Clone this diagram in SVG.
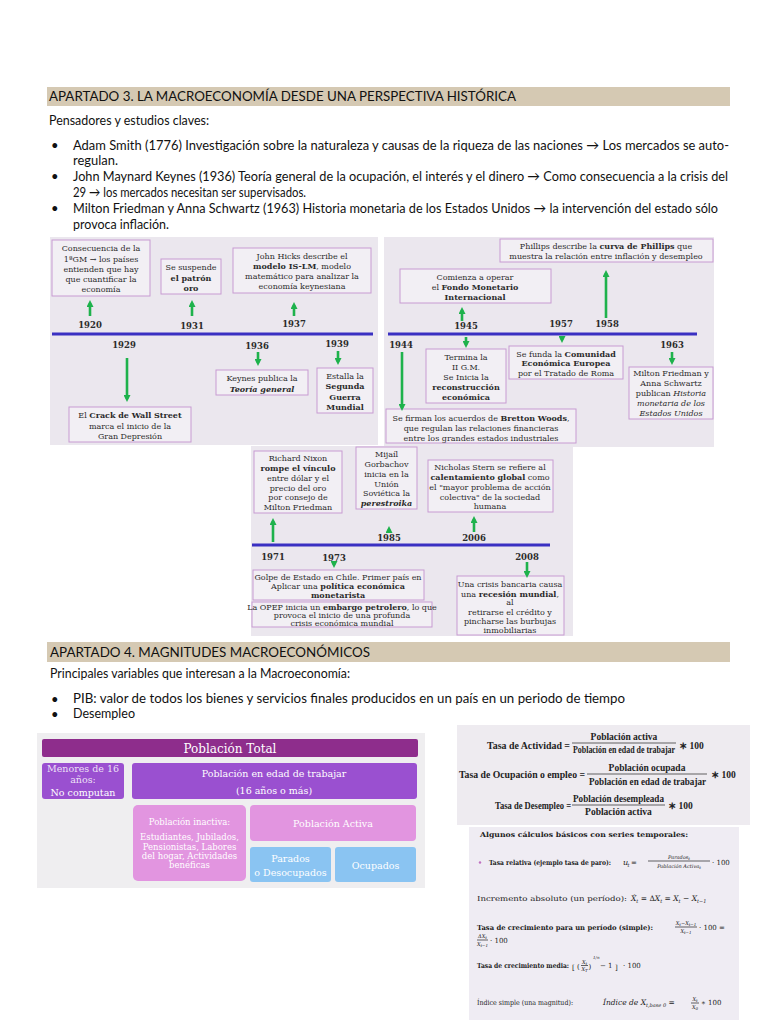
<svg xmlns="http://www.w3.org/2000/svg" width="768" height="1024" viewBox="0 0 768 1024">
<defs>
<style>
.doc{font-family:Lato,"Open Sans","Liberation Sans",sans-serif;font-size:13px;fill:#111}
.hbar{fill:#d5c9b3}
.panel{fill:#ebe7ee}
.box{fill:#f2eff4;stroke:#c89bd2;stroke-width:1}
.t{font-family:"DejaVu Serif",serif;font-size:8px;fill:#2b2b2b;text-anchor:middle}
.b{font-weight:bold}
.i{font-style:italic}
.yr{font-family:"DejaVu Serif",serif;font-size:8.5px;font-weight:bold;fill:#2b2b2b;text-anchor:middle}
.tl{stroke:#3a30c2;stroke-width:3}
.ar{stroke:#1eb24c;stroke-width:2.6;fill:none;marker-end:url(#ga)}
.pw{font-family:"DejaVu Serif",serif;fill:#fff;text-anchor:middle}
.fm{font-family:"Liberation Serif",serif;font-weight:bold;font-size:9.5px;fill:#222}
.fl{stroke:#222;stroke-width:0.7}
.s{font-family:"DejaVu Serif",serif;font-size:7px;fill:#222}
.mi{font-family:"DejaVu Serif",serif;font-style:italic;fill:#222}
</style>
<marker id="ga" viewBox="0 0 7 7" refX="4" refY="3.5" markerWidth="7" markerHeight="7" markerUnits="userSpaceOnUse" orient="auto"><path d="M0,0 L7,3.5 L0,7 z" fill="#1eb24c"/></marker>
</defs>
<rect width="768" height="1024" fill="#fff"/>

<!-- Section 3 text -->
<g id="apartado3">
<rect class="hbar" x="47" y="87" width="683" height="19"/>
<text class="doc" x="49" y="101" textLength="467" lengthAdjust="spacingAndGlyphs">APARTADO 3.  LA MACROECONOMÍA DESDE UNA PERSPECTIVA HISTÓRICA</text>
<text class="doc" x="49" y="125" textLength="160" lengthAdjust="spacingAndGlyphs">Pensadores y estudios claves:</text>
<text class="doc" x="51" y="150">•</text>
<text class="doc" x="73" y="149.5" textLength="656" lengthAdjust="spacingAndGlyphs">Adam Smith (1776) Investigación sobre la naturaleza y causas de la riqueza de las naciones → Los mercados se auto-</text>
<text class="doc" x="73" y="165" textLength="45" lengthAdjust="spacingAndGlyphs">regulan.</text>
<text class="doc" x="51" y="181">•</text>
<text class="doc" x="73" y="180.5" textLength="655" lengthAdjust="spacingAndGlyphs">John Maynard Keynes (1936) Teoría general de la ocupación, el interés y el dinero → Como consecuencia a la crisis del</text>
<text class="doc" x="73" y="196.5" textLength="233" lengthAdjust="spacingAndGlyphs">29 → los mercados necesitan ser supervisados.</text>
<text class="doc" x="51" y="213">•</text>
<text class="doc" x="73" y="212.5" textLength="645" lengthAdjust="spacingAndGlyphs">Milton Friedman y Anna Schwartz (1963) Historia monetaria de los Estados Unidos → la intervención del estado sólo</text>
<text class="doc" x="73" y="228.5" textLength="96" lengthAdjust="spacingAndGlyphs">provoca inflación.</text>
</g>

<!-- Timeline panels -->
<g id="panel1">
<rect class="panel" x="50" y="237" width="328" height="208"/>
<line class="tl" x1="52" y1="334" x2="373" y2="334"/>
<g id="n1920">
<rect class="box" x="52" y="240" width="98" height="56"/>
<text class="t" x="101" y="251">Consecuencia de la</text>
<text class="t" x="101" y="261.5">1ªGM → los países</text>
<text class="t" x="101" y="272">entienden que hay</text>
<text class="t" x="101" y="282">que cuantificar la</text>
<text class="t" x="101" y="292">economía</text>
<text class="yr" x="90" y="328">1920</text>
</g>
<g id="n1931">
<rect class="box" x="161" y="259" width="60" height="35"/>
<text class="t" x="191" y="270">Se suspende</text>
<text class="t b" x="191" y="280.5">el patrón</text>
<text class="t b" x="191" y="291">oro</text>
<text class="yr" x="192" y="329">1931</text>
</g>
<g id="n1937">
<rect class="box" x="233" y="248" width="138" height="45"/>
<text class="t" x="302" y="259">John Hicks describe  el</text>
<text class="t" x="302" y="269"><tspan class="b">modelo IS-LM</tspan>,  modelo</text>
<text class="t" x="302" y="279">matemático para  analizar la</text>
<text class="t" x="302" y="289">economía keynesiana</text>
<text class="yr" x="294" y="327">1937</text>
</g>
<g id="n1929">
<text class="yr" x="124" y="348">1929</text>
<rect class="box" x="69" y="407" width="122" height="35"/>
<text class="t" x="130" y="418">El <tspan class="b">Crack de Wall Street</tspan></text>
<text class="t" x="130" y="428.5">marca el inicio de la</text>
<text class="t" x="130" y="439">Gran Depresión</text>
</g>
<g id="n1936">
<text class="yr" x="257" y="349">1936</text>
<rect class="box" x="216" y="370" width="92" height="25"/>
<text class="t" x="262" y="381">Keynes publica la</text>
<text class="t b i" x="262" y="391.5">Teoría general</text>
</g>
<g id="n1939">
<text class="yr" x="337" y="347">1939</text>
<rect class="box" x="317" y="368" width="56" height="45"/>
<text class="t" x="345" y="378.5">Estalla la</text>
<text class="t b" x="345" y="389">Segunda</text>
<text class="t b" x="345" y="399.5">Guerra</text>
<text class="t b" x="345" y="410">Mundial</text>
</g>
</g>

<g id="panel2">
<rect class="panel" x="384" y="237" width="330" height="210"/>
<line class="tl" x1="388" y1="334" x2="697" y2="334"/>
<g id="n1958">
<rect class="box" x="500" y="239" width="213" height="23"/>
<text class="t" x="606" y="249">Phillips describe la <tspan class="b">curva de Phillips</tspan> que</text>
<text class="t" x="606" y="259">muestra la relación entre inflación y desempleo</text>
<text class="yr" x="607" y="327">1958</text>
</g>
<g id="n1945a">
<rect class="box" x="400" y="269" width="151" height="34"/>
<text class="t" x="475" y="280">Comienza a operar</text>
<text class="t" x="475" y="290">el <tspan class="b">Fondo Monetario</tspan></text>
<text class="t b" x="475" y="300">Internacional</text>
<text class="yr" x="466" y="329">1945</text>
</g>
<g id="n1957">
<text class="yr" x="561" y="327">1957</text>
<rect class="box" x="509" y="346" width="114" height="33"/>
<text class="t" x="566" y="356.5">Se funda la <tspan class="b">Comunidad</tspan></text>
<text class="t b" x="566" y="366">Económica Europea</text>
<text class="t" x="566" y="376">por el Tratado de Roma</text>
</g>
<g id="n1945b">
<rect class="box" x="426" y="349" width="80" height="54"/>
<text class="t" x="466" y="360">Termina la</text>
<text class="t" x="466" y="370">II G.M.</text>
<text class="t" x="466" y="380">Se Inicia la</text>
<text class="t b" x="466" y="390">reconstrucción</text>
<text class="t b" x="466" y="400">económica</text>
</g>
<g id="n1963">
<text class="yr" x="672" y="348">1963</text>
<rect class="box" x="629" y="367" width="84" height="52"/>
<text class="t" x="671" y="376">Milton Friedman y</text>
<text class="t" x="671" y="386">Anna Schwartz</text>
<text class="t" x="671" y="396">publican <tspan class="i">Historia</tspan></text>
<text class="t i" x="671" y="406">monetaria de los</text>
<text class="t i" x="671" y="416">Estados Unidos</text>
</g>
<g id="n1944">
<text class="yr" x="401" y="348">1944</text>
<rect class="box" x="386" y="409" width="190" height="34"/>
<text class="t" x="481" y="421">Se firman los acuerdos de <tspan class="b">Bretton Woods</tspan>,</text>
<text class="t" x="481" y="431">que regulan las relaciones financieras</text>
<text class="t" x="481" y="440.5">entre los grandes estados industriales</text>
</g>
</g>

<g id="panel3">
<rect class="panel" x="251" y="446" width="322" height="190"/>
<line class="tl" x1="252" y1="545" x2="550" y2="545"/>
<g id="n1971">
<rect class="box" x="254" y="451" width="88" height="62"/>
<text class="t" x="298" y="460.5">Richard Nixon</text>
<text class="t b" x="298" y="470.5">rompe el vínculo</text>
<text class="t" x="298" y="480.5">entre dólar y el</text>
<text class="t" x="298" y="490.5">precio del oro</text>
<text class="t" x="298" y="500">por consejo de</text>
<text class="t" x="298" y="510">Milton Friedman</text>
<text class="yr" x="273" y="560">1971</text>
</g>
<g id="n1985">
<rect class="box" x="356" y="447" width="61" height="62"/>
<text class="t" x="386.5" y="457">Mijaíl</text>
<text class="t" x="386.5" y="467">Gorbachov</text>
<text class="t" x="386.5" y="477">inicia en la</text>
<text class="t" x="386.5" y="486.5">Unión</text>
<text class="t" x="386.5" y="496">Soviética la</text>
<text class="t b i" x="386.5" y="506">perestroika</text>
<text class="yr" x="389" y="541">1985</text>
</g>
<g id="n2006">
<rect class="box" x="428" y="460" width="125" height="52"/>
<text class="t" x="490" y="470">Nicholas Stern se refiere al</text>
<text class="t" x="490" y="480"><tspan class="b">calentamiento global</tspan> como</text>
<text class="t" x="490" y="490">el "mayor problema de acción</text>
<text class="t" x="490" y="499.5">colectiva" de la sociedad</text>
<text class="t" x="490" y="509">humana</text>
<text class="yr" x="474" y="541">2006</text>
</g>
<g id="n1973">
<text class="yr" x="334" y="561">1973</text>
<rect class="box" x="253" y="570" width="171" height="30"/>
<text class="t" x="338" y="579.5">Golpe de Estado en Chile. Primer país en</text>
<text class="t" x="338" y="588.5">Aplicar una <tspan class="b">política económica</tspan></text>
<text class="t b" x="338" y="597.5">monetarista</text>
</g>
<g id="nOPEP">
<rect class="box" x="252" y="602" width="180" height="25"/>
<text class="t" x="342" y="610">La OPEP inicia un <tspan class="b">embargo petrolero</tspan>, lo que</text>
<text class="t" x="342" y="618">provoca el inicio de una profunda</text>
<text class="t" x="342" y="626">crisis económica mundial</text>
</g>
<g id="n2008">
<text class="yr" x="527" y="560">2008</text>
<rect class="box" x="457" y="576" width="107" height="59"/>
<text class="t" x="510" y="587">Una crisis bancaria causa</text>
<text class="t" x="510" y="596.5">una <tspan class="b">recesión mundial</tspan>,</text>
<text class="t" x="510" y="605">al</text>
<text class="t" x="510" y="614.5">retirarse el crédito y</text>
<text class="t" x="510" y="624">pincharse las burbujas</text>
<text class="t" x="510" y="633">inmobiliarias</text>
</g>
</g>

<g id="connectors">
<line class="ar" x1="90" y1="316" x2="90" y2="303"/>
<line class="ar" x1="192" y1="316" x2="192" y2="303"/>
<line class="ar" x1="294" y1="316" x2="294" y2="305"/>
<line class="ar" x1="127" y1="358" x2="127" y2="399"/>
<line class="ar" x1="258" y1="352" x2="258" y2="363"/>
<line class="ar" x1="338" y1="351" x2="338" y2="362"/>
<line class="ar" x1="462" y1="321" x2="462" y2="310"/>
<line class="ar" x1="606" y1="318" x2="606" y2="273"/>
<line class="ar" x1="402" y1="352" x2="402" y2="408"/>
<line class="ar" x1="466" y1="337" x2="466" y2="345"/>
<line class="ar" x1="562" y1="337" x2="562" y2="340"/>
<line class="ar" x1="672" y1="352" x2="672" y2="362"/>
<line class="ar" x1="273" y1="542" x2="273" y2="521"/>
<line class="ar" x1="389" y1="531" x2="389" y2="529"/>
<line class="ar" x1="474" y1="532" x2="474" y2="519"/>
<line class="ar" x1="334" y1="562" x2="334" y2="565"/>
<line class="ar" x1="527" y1="562" x2="527" y2="575"/>
</g>

<!-- Section 4 -->
<g id="apartado4">
<rect class="hbar" x="47" y="642" width="683" height="20"/>
<text class="doc" x="50" y="657" textLength="320" lengthAdjust="spacingAndGlyphs">APARTADO 4.  MAGNITUDES MACROECONÓMICOS</text>
<text class="doc" x="50" y="677.5" textLength="300" lengthAdjust="spacingAndGlyphs">Principales variables que interesan a la Macroeconomía:</text>
<text class="doc" x="51" y="703.5">•</text>
<text class="doc" x="73" y="703" textLength="552" lengthAdjust="spacingAndGlyphs">PIB: valor de todos los bienes y servicios finales producidos en un país en un periodo de tiempo</text>
<text class="doc" x="51" y="718.5">•</text>
<text class="doc" x="73" y="718" textLength="62" lengthAdjust="spacingAndGlyphs">Desempleo</text>
</g>

<!-- Population diagram -->
<g id="poblacion">
<rect x="37" y="733" width="388" height="155" fill="#efeef0"/>
<g id="pTotal">
<rect x="42" y="739" width="376" height="18" rx="2" fill="#8e2d8c"/>
<text class="pw" x="230" y="752.5" font-size="12">Población Total</text>
</g>
<g id="pMenores">
<rect x="42" y="763" width="82" height="36" rx="3" fill="#9a50d0"/>
<text class="pw" x="83" y="771.5" font-size="9.5" fill-opacity="0.85">Menores de 16</text>
<text class="pw" x="83" y="783" font-size="9.5" fill-opacity="0.85">años:</text>
<text class="pw" x="83" y="796" font-size="9.5">No computan</text>
</g>
<g id="pEdad">
<rect x="132" y="763" width="285" height="36" rx="3" fill="#9a50d0"/>
<text class="pw" x="274" y="777" font-size="9.5">Población en edad de trabajar</text>
<text class="pw" x="274" y="794" font-size="9.5">(16 años o más)</text>
</g>
<g id="pInactiva">
<rect x="133" y="805" width="113" height="76" rx="5" fill="#e295e0"/>
<text class="pw" x="189.5" y="825" font-size="8.5">Población inactiva:</text>
<text class="pw" x="189.5" y="840" font-size="8.5">Estudiantes, Jubilados,</text>
<text class="pw" x="189.5" y="849.5" font-size="8.5">Pensionistas, Labores</text>
<text class="pw" x="189.5" y="859" font-size="8.5">del hogar, Actividades</text>
<text class="pw" x="189.5" y="868" font-size="8.5">benéficas</text>
</g>
<g id="pActiva">
<rect x="250" y="805" width="166" height="36" rx="4" fill="#e295e0"/>
<text class="pw" x="333" y="826.5" font-size="9.5">Población Activa</text>
</g>
<g id="pParados">
<rect x="250" y="847" width="81" height="35" rx="3" fill="#8ac4f2"/>
<text class="pw" x="290.5" y="861.5" font-size="9.5">Parados</text>
<text class="pw" x="290.5" y="875.5" font-size="9.5">o Desocupados</text>
</g>
<g id="pOcupados">
<rect x="335" y="847" width="81" height="35" rx="3" fill="#8ac4f2"/>
<text class="pw" x="375.5" y="869" font-size="9.5">Ocupados</text>
</g>
</g>

<!-- Rate formulas -->
<g id="tasas">
<rect x="457" y="725" width="293" height="100" fill="#eeebf0"/>
<text class="fm" x="487" y="749" textLength="83" lengthAdjust="spacingAndGlyphs">Tasa de Actividad =</text>
<text class="fm" x="624" y="740" text-anchor="middle">Población activa</text>
<line class="fl" x1="572" y1="743" x2="676" y2="743"/>
<text class="fm" x="573" y="753" textLength="102" lengthAdjust="spacingAndGlyphs">Población en edad de trabajar</text>
<text class="fm" x="679" y="749">∗ 100</text>

<text class="fm" x="459" y="778" textLength="126" lengthAdjust="spacingAndGlyphs">Tasa de Ocupación o empleo =</text>
<text class="fm" x="647" y="771" text-anchor="middle">Población ocupada</text>
<line class="fl" x1="587" y1="774" x2="707" y2="774"/>
<text class="fm" x="589" y="784.5" textLength="117" lengthAdjust="spacingAndGlyphs">Población en edad de trabajar</text>
<text class="fm" x="711" y="778">∗ 100</text>

<text class="fm" x="495" y="809" textLength="76" lengthAdjust="spacingAndGlyphs">Tasa de Desempleo =</text>
<text class="fm" x="618.5" y="802" text-anchor="middle" textLength="91" lengthAdjust="spacingAndGlyphs">Población desempleada</text>
<line class="fl" x1="572" y1="805" x2="665" y2="805"/>
<text class="fm" x="618.5" y="815" text-anchor="middle">Población activa</text>
<text class="fm" x="668" y="809">∗ 100</text>
</g>

<!-- Time series formulas -->
<g id="series">
<rect x="469" y="827" width="270" height="193" fill="#efecf3"/>
<text class="s b" x="480" y="837" font-size="7.5" textLength="208" lengthAdjust="spacingAndGlyphs">Algunos cálculos básicos con series temporales:</text>

<circle cx="480" cy="862.5" r="1.2" fill="#c070c0"/>
<text class="s b" x="489" y="865" textLength="122" lengthAdjust="spacingAndGlyphs">Tasa relativa (ejemplo tasa de paro):</text>
<text class="mi" x="623" y="865" font-size="8">u</text>
<text class="mi" x="627.5" y="866.5" font-size="5">t</text>
<text class="s" x="631" y="865" font-size="8">=</text>
<text class="mi" x="679" y="858.5" font-size="5" text-anchor="middle">Parados<tspan font-size="4" dy="1">t</tspan></text>
<line class="fl" x1="648" y1="861" x2="710" y2="861"/>
<text class="mi" x="679" y="867.5" font-size="5" text-anchor="middle">Población Activa<tspan font-size="4" dy="1">t</tspan></text>
<text class="s" x="712" y="865">· 100</text>

<text class="s" x="477" y="901" textLength="150" lengthAdjust="spacingAndGlyphs">Incremento absoluto (un período):</text>
<text class="mi" x="631" y="901" font-size="7.5">X̂<tspan font-size="5" dy="1.5">t</tspan><tspan dy="-1.5" font-style="normal"> = Δ</tspan>X<tspan font-size="5" dy="1.5">t</tspan><tspan dy="-1.5" font-style="normal"> = </tspan>X<tspan font-size="5" dy="1.5">t</tspan><tspan dy="-1.5" font-style="normal"> − </tspan>X<tspan font-size="5" dy="1.5">t−1</tspan></text>

<text class="s b" x="477" y="930" textLength="176" lengthAdjust="spacingAndGlyphs">Tasa de crecimiento para un período (simple):</text>
<text class="mi" x="686" y="925" font-size="5" text-anchor="middle">X<tspan font-size="4" dy="1">t</tspan><tspan dy="-1" font-style="normal">−</tspan>X<tspan font-size="4" dy="1">t−1</tspan></text>
<line class="fl" x1="675" y1="927" x2="697" y2="927"/>
<text class="mi" x="686" y="933" font-size="5" text-anchor="middle">X<tspan font-size="4" dy="1">t−1</tspan></text>
<text class="s" x="699" y="930">· 100 =</text>
<text class="mi" x="482.5" y="938" font-size="5" text-anchor="middle">ΔX<tspan font-size="4" dy="1">t</tspan></text>
<line class="fl" x1="477" y1="940" x2="488" y2="940"/>
<text class="mi" x="482.5" y="946" font-size="5" text-anchor="middle">X<tspan font-size="4" dy="1">t−1</tspan></text>
<text class="s" x="490" y="943">· 100</text>

<text class="s b" x="477" y="968" textLength="92" lengthAdjust="spacingAndGlyphs">Tasa de crecimiento media:</text>
<text class="s" x="572" y="970" font-size="12">[</text>
<text class="s" x="577" y="969" font-size="9">(</text>
<text class="mi" x="584.5" y="963.5" font-size="5" text-anchor="middle">X<tspan font-size="4" dy="1">t</tspan></text>
<line class="fl" x1="581" y1="965.5" x2="588" y2="965.5"/>
<text class="mi" x="584.5" y="971" font-size="5" text-anchor="middle">X<tspan font-size="4" dy="1">T</tspan></text>
<text class="s" x="588.5" y="969" font-size="9">)</text>
<text class="mi" x="593" y="959" font-size="4">1/n</text>
<text class="s" x="600" y="968">− 1</text>
<text class="s" x="615" y="970" font-size="12">]</text>
<text class="s" x="623" y="968">· 100</text>

<text class="s" x="477" y="1005" textLength="96" lengthAdjust="spacingAndGlyphs">Índice simple (una magnitud):</text>
<text class="mi" x="603" y="1005" font-size="7.5">Índice de X<tspan font-size="5" dy="1.5">t,base 0</tspan><tspan dy="-1.5" font-style="normal"> =</tspan></text>
<text class="mi" x="695" y="1001" font-size="5" text-anchor="middle">X<tspan font-size="4" dy="1">t</tspan></text>
<line class="fl" x1="691" y1="1003" x2="699" y2="1003"/>
<text class="mi" x="695" y="1009" font-size="5" text-anchor="middle">X<tspan font-size="4" dy="1">0</tspan></text>
<text class="s" x="701" y="1005">∗ 100</text>
</g>
</svg>
